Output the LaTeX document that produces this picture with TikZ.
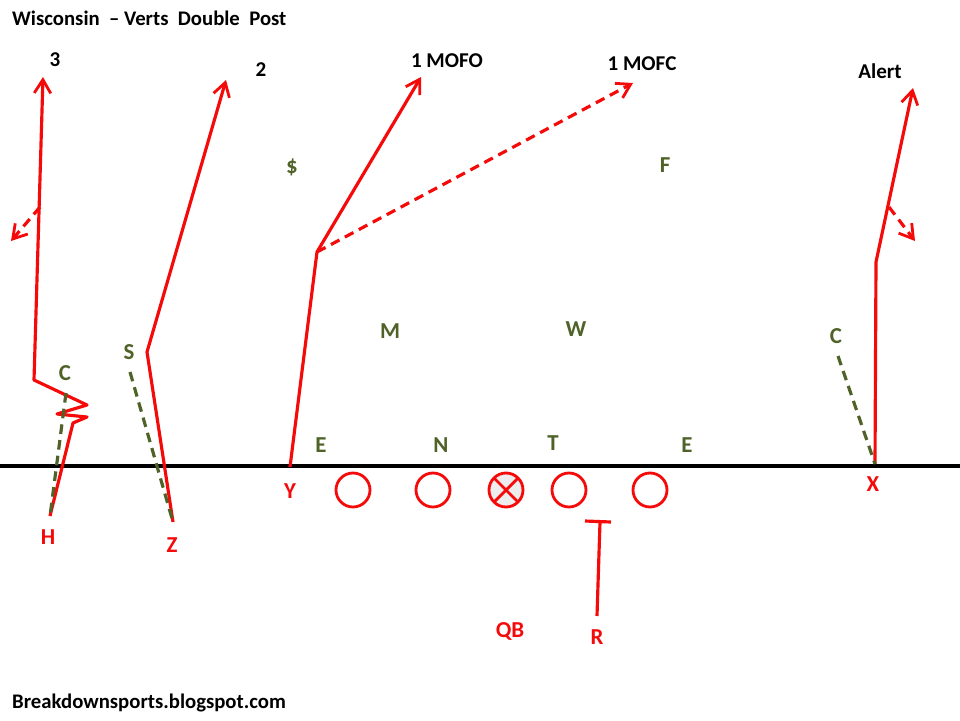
\documentclass[tikz,border=0pt]{standalone}
\usepackage{fontspec}
\setmainfont{Carlito}
\usetikzlibrary{arrows.meta, positioning}
\definecolor{offred}{RGB}{245,10,10}
\definecolor{defgreen}{RGB}{79,98,40}

\begin{document}
\begin{tikzpicture}[x=0.02cm, y=-0.02cm]
 \tikzset{route/.style={draw=offred, line width=1.8pt, line join=round},
    opt/.style={route, dash pattern=on 5.5pt off 3.5pt},
    tip/.style={-{Straight Barb[length=2.7mm, width=3.3mm, line width=1.6pt]}},
    cover/.style={draw=defgreen, line width=1.8pt, dash pattern=on 5.5pt off 3.5pt},
    off label/.style={text=offred, font=\bfseries\fontsize{13}{13}\selectfont},
    def label/.style={text=defgreen, font=\bfseries\fontsize{13}{13}\selectfont},
    read label/.style={font=\bfseries\fontsize{12}{12}\selectfont},
    note/.style={anchor=west, font=\bfseries\fontsize{11.8}{12}\selectfont},
    lineman/.style={circle, draw=offred, line width=1.6pt, inner sep=0pt,
      minimum size=0.68cm}}
 \useasboundingbox (0,0) rectangle (960,720);

 % titles
 \node[note] (title) at (6,18) {Wisconsin~ -- Verts~ Double~ Post};
 \node[note] (site) at (6,703) {Breakdownsports.blogspot.com};

 % line of scrimmage
 \coordinate (los west) at (0,466);
 \coordinate (los east) at (960,466);
 \draw[line width=2pt] (los west) -- (los east);

 % offensive line
 \foreach \name/\x in {lt/353, lg/433, rg/569, rt/650}
   \node[lineman] (\name) at (\x,490) {};
 \node[lineman, fill=black!7, path picture={
    \draw[offred, line width=1.6pt]
      (path picture bounding box.north west) -- (path picture bounding box.south east)
      (path picture bounding box.north east) -- (path picture bounding box.south west);}]
   (ctr) at (506,490) {};

 % offense
 \node[off label] (Y) at (290,491) {Y};
 \node[off label] (H) at (48,537) {H};
 \node[off label] (Z) at (172,545) {Z};
 \node[off label] (X) at (873,484) {X};
 \node[off label] (QB) at (510,631) {QB};
 \node[off label] (R) at (597,637) {R};

 % defense
 \node[def label] (dlE) at (321,445) {E};
 \node[def label] (dlN) at (441,445) {N};
 \node[def label] (dlT) at (553,443) {T};
 \node[def label] (dlE2) at (687,445) {E};
 \node[def label] (Mike) at (390,331) {M};
 \node[def label] (Will) at (576,329) {W};
 \node[def label] (Money) at (292,167) {\$};
 \node[def label] (Free) at (665,165) {F};
 \node[def label] (Sam) at (129,352) {S};
 \node[def label] (Cb1) at (65,373) {C};
 \node[def label] (Cb2) at (836,336) {C};

 % reads
 \node[read label] (read3) at (55,60) {3};
 \node[read label] (read2) at (261,70) {2};
 \node[read label] (mofo) at (447,61) {1 MOFO};
 \node[read label] (mofc) at (642,64) {1 MOFC};
 \node[read label] (alert) at (880,71) {Alert};

 % H route
 \coordinate (h0) at (50,516);
 \coordinate (h1) at (73,423);
 \coordinate (h2) at (87,417);
 \coordinate (h3) at (57,414);
 \coordinate (h4) at (87,405);
 \coordinate (h5) at (34,380);
 \coordinate (h6) at (43,77);
 \coordinate (hopt) at (40,207);
 \coordinate (hopt end) at (11,241);
 \draw[route, tip] (h0) -- (h1) -- (h2) -- (h3) -- (h4) -- (h5) -- (h6);
 \draw[opt, tip] (hopt) -- (hopt end);
 \coordinate (cb1 top) at (66,393);
 \draw[cover] (cb1 top) -- (h0);

 % Z route
 \coordinate (z0) at (173,522);
 \coordinate (z1) at (147,352);
 \coordinate (z2) at (226,80);
 \draw[route, tip] (z0) -- (z1) -- (z2);
 \coordinate (sam top) at (130,372);
 \draw[cover] (sam top) -- (z0);

 % Y route
 \coordinate (y0) at (290,467);
 \coordinate (y1) at (317,252);
 \coordinate (y2) at (421,77);
 \coordinate (y3) at (633,83);
 \draw[route, tip] (y0) -- (y1) -- (y2);
 \draw[opt, tip] (y1) -- (y3);

 % X route
 \coordinate (x0) at (875,464);
 \coordinate (x1) at (876,262);
 \coordinate (x2) at (913,88);
 \coordinate (xopt) at (889,207);
 \coordinate (xopt end) at (915,241);
 \draw[route, tip] (x0) -- (x1) -- (x2);
 \draw[opt, tip] (xopt) -- (xopt end);
 \coordinate (cb2 top) at (838,356);
 \draw[cover] (cb2 top) -- (x0);

 % R block
 \coordinate (r0) at (597,616);
 \coordinate (r1) at (600,522);
 \coordinate (bar west) at (585,521);
 \coordinate (bar east) at (611,522);
 \draw[route] (r0) -- (r1);
 \draw[route] (bar west) -- (bar east);
\end{tikzpicture}
\end{document}
